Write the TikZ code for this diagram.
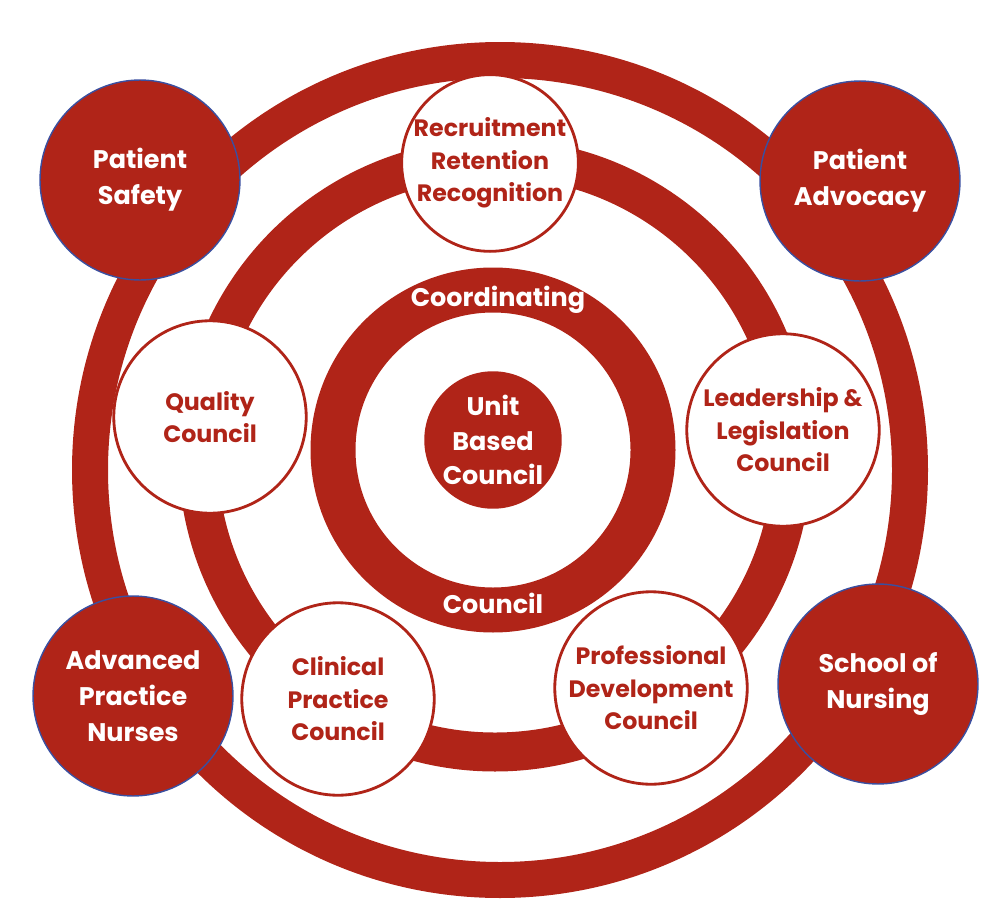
\documentclass[tikz,border=0pt]{standalone}
\usepackage{fontspec}
\setmainfont{Poppins}
\definecolor{ringred}{HTML}{B02418}
\definecolor{rimblue}{HTML}{3A4FA0}
\tikzset{
	council/.style={circle, draw=ringred, line width=1.6pt, fill=white, text=ringred,
		align=center, font=\fontsize{13.5}{18.5}\selectfont\bfseries, inner sep=0pt},
	partner/.style={circle, draw=rimblue, line width=0.8pt, fill=ringred, text=white,
		align=center, font=\fontsize{14.5}{20.5}\selectfont\bfseries, inner sep=0pt},
	ringtext/.style={text=white, font=\fontsize{14.5}{17}\selectfont\bfseries}
}
\begin{document}
\begin{tikzpicture}[x=0.02cm, y=-0.02cm]
\useasboundingbox (0,0) rectangle (1000,922);
% rings
\draw[ringred, line width=0.72cm] (500,470) circle[radius=410];
\draw[ringred, line width=0.78cm] (495,455) circle[radius=297];
\draw[ringred, line width=0.9cm] (493,450) circle[radius=160];
\node[ringtext] (coord) at (498,300) {Coordinating};
\node[ringtext] (counc) at (493,603) {Council};
% centre
\node[circle, fill=ringred, text=white, minimum size=2.75cm, align=center, inner sep=0pt,
	font=\fontsize{14.5}{19.5}\selectfont\bfseries] (unit) at (493,440) {Unit\\Based\\Council};
% councils
\node[council, minimum size=3.5cm] (rrr) at (490,163) {Recruitment\\Retention\\Recognition};
\node[council, minimum size=3.85cm] (qual) at (210,417) {Quality\\Council};
\node[council, minimum size=3.85cm] (lead) at (783,430) {Leadership \&\\Legislation\\Council};
\node[council, minimum size=3.85cm] (clin) at (338,699) {Clinical\\Practice\\Council};
\node[council, minimum size=3.85cm] (prof) at (651,688) {Professional\\Development\\Council};
% partners
\node[partner, minimum size=4cm] (safety) at (140,180) {Patient\\Safety};
\node[partner, minimum size=4cm] (advoc) at (860,181) {Patient\\Advocacy};
\node[partner, minimum size=4cm] (apn) at (133,696) {Advanced\\Practice\\Nurses};
\node[partner, minimum size=4cm] (school) at (878,684) {School of\\Nursing};
\end{tikzpicture}
\end{document}
